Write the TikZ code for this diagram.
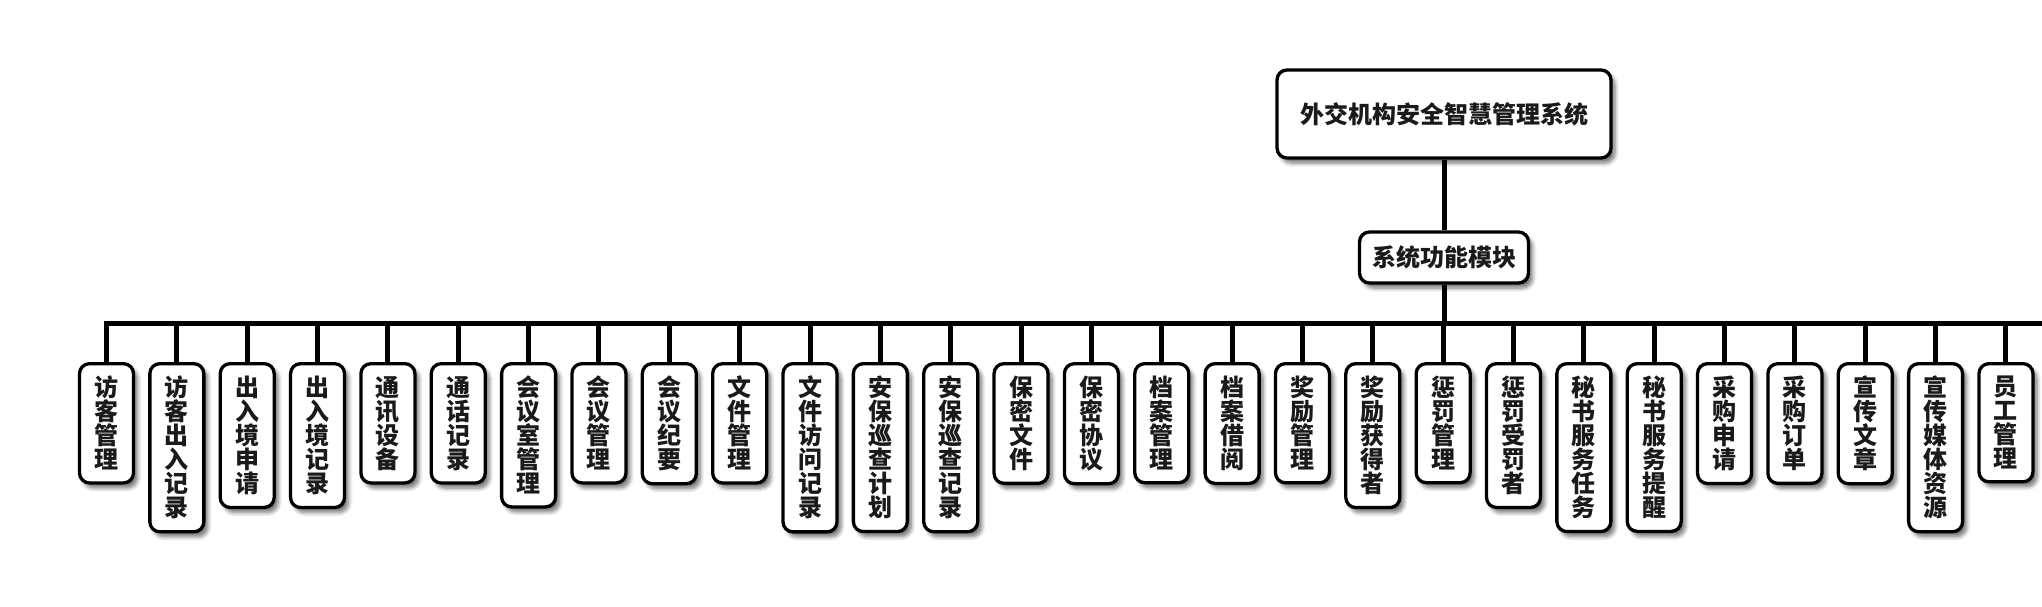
\documentclass[tikz,border=0pt]{standalone}
\usepackage{fontspec}
\newfontfamily\cjk{Noto Sans CJK SC}
\usetikzlibrary{shadows.blur}
\definecolor{txt}{HTML}{1A1A1A}
\tikzset{
  box/.style={draw=black, line width=3.3pt, rounded corners=10pt, fill=white, text=txt,
    font=\cjk\bfseries\fontsize{24}{24}\selectfont,
    blur shadow={shadow xshift=4pt, shadow yshift=-5pt, shadow blur steps=6, shadow blur radius=4pt, shadow opacity=55}},
  leaf/.style={box, align=center, inner xsep=0pt, inner ysep=12.5pt, minimum width=54pt, anchor=north},
  conn/.style={line width=5pt, draw=black},
}
\begin{document}
\begin{tikzpicture}[x=1pt, y=-1pt]
\useasboundingbox (0,0) rectangle (2042,607);
\coordinate (busL) at (104,323);
\coordinate (busR) at (2042,323);
\draw[conn] (busL) -- (busR);
\node[box, minimum width=334pt, minimum height=88pt] (root) at (1444,114) {外交机构安全智慧管理系统};
\node[box, minimum width=169pt, minimum height=51pt, inner sep=0pt] (mid) at (1444,257.5) {系统功能模块};
\draw[conn] (root.south) -- (mid.north);
\draw[conn] (mid.south) -- (mid.south |- busL);
\foreach \t [count=\i from 0] in {
  {访\\客\\管\\理}, {访\\客\\出\\入\\记\\录}, {出\\入\\境\\申\\请}, {出\\入\\境\\记\\录},
  {通\\讯\\设\\备}, {通\\话\\记\\录}, {会\\议\\室\\管\\理}, {会\\议\\管\\理},
  {会\\议\\纪\\要}, {文\\件\\管\\理}, {文\\件\\访\\问\\记\\录}, {安\\保\\巡\\查\\计\\划},
  {安\\保\\巡\\查\\记\\录}, {保\\密\\文\\件}, {保\\密\\协\\议}, {档\\案\\管\\理},
  {档\\案\\借\\阅}, {奖\\励\\管\\理}, {奖\\励\\获\\得\\者}, {惩\\罚\\管\\理},
  {惩\\罚\\受\\罚\\者}, {秘\\书\\服\\务\\任\\务}, {秘\\书\\服\\务\\提\\醒}, {采\\购\\申\\请},
  {采\\购\\订\\单}, {宣\\传\\文\\章}, {宣\\传\\媒\\体\\资\\源}, {员\\工\\管\\理}} {
  \node[leaf] (leaf\i) at ({106.5+70.35*\i},362) {\t};
  \draw[conn] (leaf\i.north) -- (leaf\i.north |- busL);
}
\end{tikzpicture}
\end{document}
